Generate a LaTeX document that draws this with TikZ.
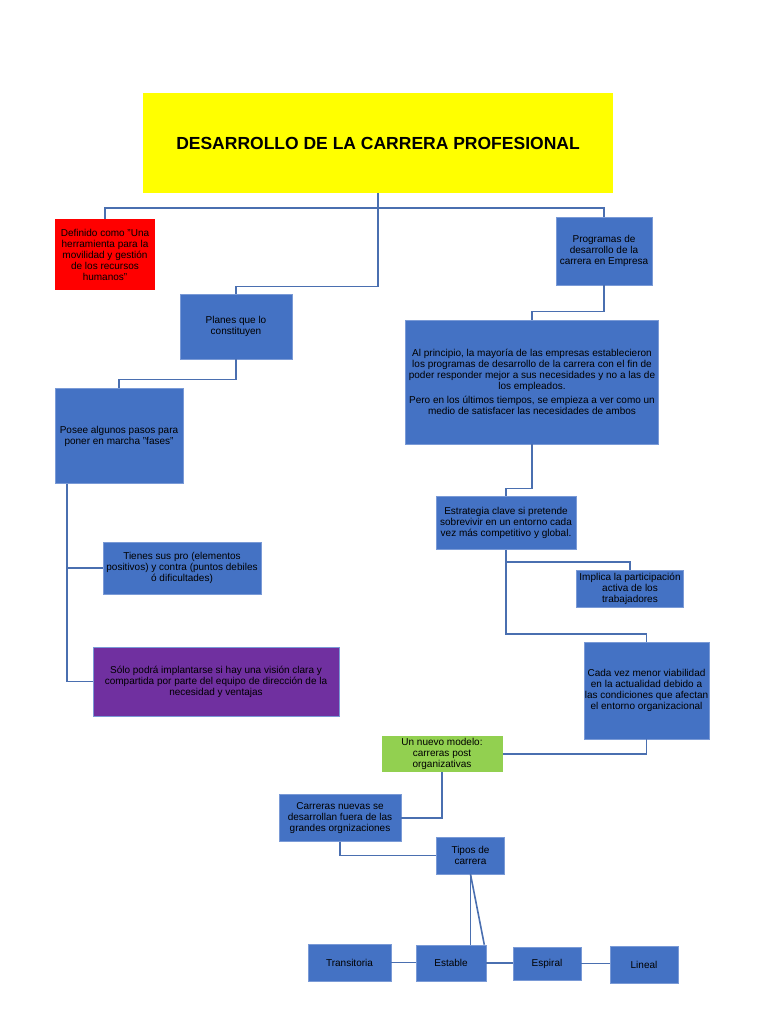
\documentclass[tikz,border=0pt]{standalone}
\usepackage{fontspec}
\setmainfont{Liberation Sans}
\usetikzlibrary{calc}
\usetikzlibrary{arrows.meta}

\definecolor{boxblue}{HTML}{4472C4}
\definecolor{boxedge}{HTML}{7A9AD6}
\definecolor{linkblue}{HTML}{4A6FB0}
\definecolor{titleyellow}{HTML}{FFFF00}
\definecolor{defred}{HTML}{FF0000}
\definecolor{modelgreen}{HTML}{92D050}
\definecolor{notepurple}{HTML}{7030A0}

\tikzset{
  box/.style={rectangle, fill=boxblue, draw=boxedge, line width=.6pt, inner sep=0pt,
    align=center, text=black, font=\fontsize{10}{11}\selectfont},
  link/.style={draw=linkblue, line width=1.6pt}
}

\begin{document}
\begin{tikzpicture}[x=1pt, y=-1pt]

\useasboundingbox[fill=white] (0,0) rectangle (768,1024);

\node[box, fill=titleyellow, draw=none, minimum width=470, minimum height=100,
  font=\fontsize{17.5}{20}\selectfont\bfseries] (title) at (378,143)
  {DESARROLLO DE LA CARRERA PROFESIONAL};

\node[box, fill=defred, draw=none, minimum width=100, minimum height=71] (def) at (105,254.5)
  {Definido como "Una\\herramienta para la\\movilidad y gestión\\de los recursos\\humanos"};
\node[box, minimum width=112, minimum height=65] (planes) at (236,326.5) {Planes que lo\\constituyen};
\node[box, minimum width=128, minimum height=95] (posee) at (119,436)
  {Posee algunos pasos para\\poner en marcha "fases"};
\node[box, minimum width=158, minimum height=52] (pros) at (182,568)
  {Tienes sus pro (elementos\\positivos) y contra (puntos debiles\\ó dificultades)};
\node[box, fill=notepurple, minimum width=246, minimum height=69] (vision) at (216,681.5)
  {Sólo podrá implantarse si hay una visión clara y\\compartida por parte del equipo de dirección de la\\necesidad y ventajas};

\node[box, minimum width=96, minimum height=68] (prog) at (604,251)
  {Programas de\\desarrollo de la\\carrera en Empresa};
\node[box, minimum width=253, minimum height=124] (inicio) at (532,382)
  {Al principio, la mayoría de las empresas establecieron\\los programas de desarrollo de la carrera con el fin de\\poder responder mejor a sus necesidades y no a las de\\los empleados.\\[3pt]
   Pero en los últimos tiempos, se empieza a ver como un\\medio de satisfacer las necesidades de ambos};
\node[box, minimum width=140, minimum height=53] (estr) at (506,523)
  {Estrategia clave si pretende\\sobrevivir en un entorno cada\\vez más competitivo y global.};
\node[box, minimum width=107, minimum height=37] (impl) at (630,588.5)
  {Implica la participación\\activa de los\\trabajadores};
\node[box, minimum width=125, minimum height=97] (menor) at (646.5,690.5)
  {Cada vez menor viabilidad\\en la actualidad debido a\\las condiciones que afectan\\el entorno organizacional};

\node[box, fill=modelgreen, draw=none, minimum width=121, minimum height=36] (nuevo) at (442,754)
  {Un nuevo modelo:\\carreras post\\organizativas};
\node[box, minimum width=122, minimum height=47] (fuera) at (340,818)
  {Carreras nuevas se\\desarrollan fuera de las\\grandes orgnizaciones};
\node[box, minimum width=68, minimum height=37] (tipos) at (470.5,855.5) {Tipos de\\carrera};

\node[box, minimum width=83, minimum height=37] (trans) at (349.5,962.5) {Transitoria};
\node[box, minimum width=70, minimum height=36] (estab) at (451,963) {Estable};
\node[box, minimum width=68, minimum height=33] (espir) at (547,963.5) {Espiral};
\node[box, minimum width=68, minimum height=37] (lineal) at (644,964.5) {Lineal};

\draw[link] (def.north) |- ([yshift=-15pt]title.south) -| (prog.north);
\draw[link] (title.south) -- ++(0,93) -| (planes.north);
\draw[link] (planes.south) -- ++(0,20) -| (posee.north);
\draw[link] ([xshift=12pt]posee.south west) |- (pros.west);
\draw[link] ([xshift=12pt]posee.south west) |- (vision.west);

\draw[link] (prog.south) -- ++(0,26) -| (inicio.north);
\draw[link] (inicio.south) -- ++(0,44) -| (estr.north);
\draw[link] (estr.south) -- ++(0,12) -| (impl.north);
\draw[link] (estr.south) -- ++(0,84) -| (menor.north);
\draw[link] (menor.south) |- (nuevo.east);
\draw[link] (nuevo.south) |- (fuera.east);
\draw[link] (fuera.south) |- (tipos.west);

\draw[link] (tipos.south) -- (tipos.south |- estab.north);
\draw[link] (tipos.south) -- ([xshift=-2pt]estab.north east);
\draw[link] (trans.east) -- (trans.east -| estab.west);
\draw[link] (estab.east) -- (estab.east -| espir.west);
\draw[link] (espir.east) -- (espir.east -| lineal.west);

\end{tikzpicture}
\end{document}
